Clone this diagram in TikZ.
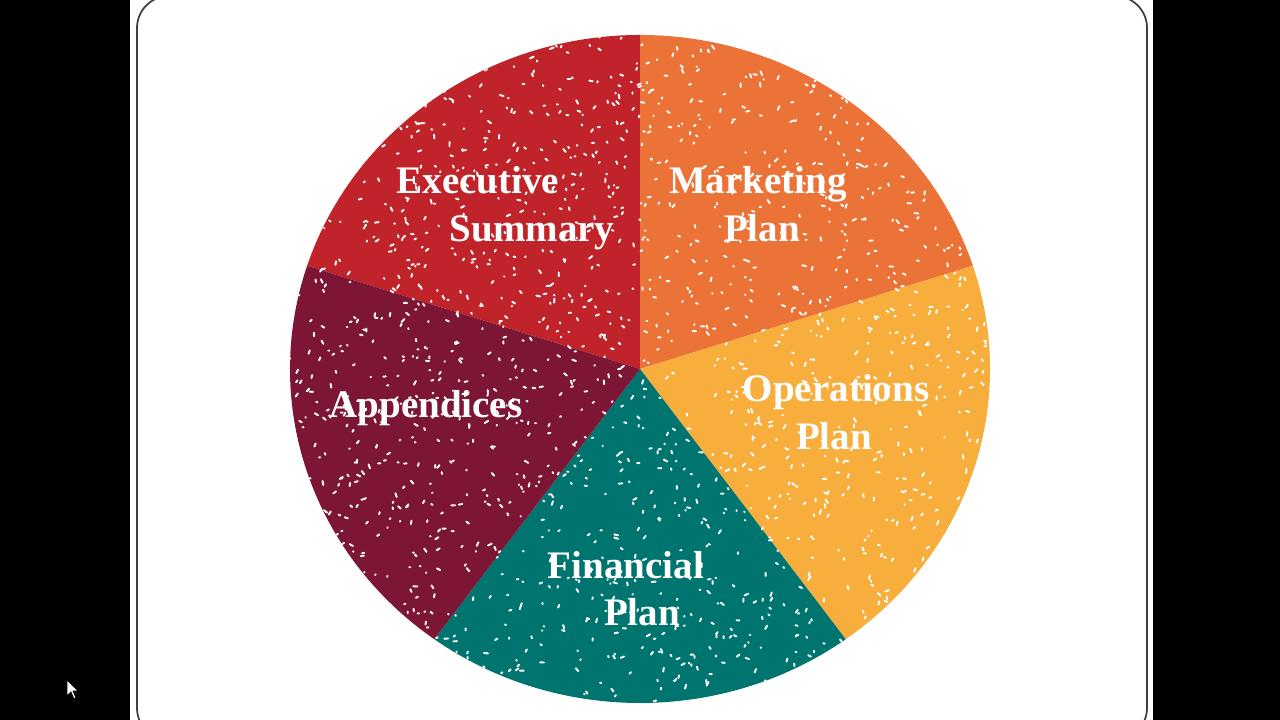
\documentclass[tikz,border=0pt]{standalone}
\usepackage{fontspec}
\setmainfont{Liberation Serif}
\usetikzlibrary{calc}
\definecolor{execred}{HTML}{C0242A}
\definecolor{mktorange}{HTML}{EC7338}
\definecolor{opsyellow}{HTML}{F7AE3D}
\definecolor{finteal}{HTML}{00756F}
\definecolor{appmaroon}{HTML}{7D1535}
\tikzset{
  lbl/.style={text=white, anchor=base, inner sep=0pt, font=\bfseries\fontsize{11.1}{13}\selectfont},
  speck/.style={white, line width=0.55pt, line cap=round}
}
\begin{document}
\begin{tikzpicture}
\useasboundingbox (0,0) rectangle (12.8,7.2);
\clip (0,0) rectangle (12.8,7.2);

% Screen and slide
\fill[black] (0,0) rectangle (12.8,7.2);
\fill[white] (1.30,0) rectangle (11.53,7.2);
\draw[black!75, line width=0.5pt, rounded corners=0.32cm] (1.37,-0.20) rectangle (11.47,7.24);

% Pie centre
\coordinate (c) at (6.40,3.51);

% Executive summary slice
\fill[execred] (c) -- ++(90:3.5 and 3.34) arc[start angle=90, end angle=162, x radius=3.5, y radius=3.34] -- cycle;
% Marketing plan slice
\fill[mktorange] (c) -- ++(18:3.5 and 3.34) arc[start angle=18, end angle=90, x radius=3.5, y radius=3.34] -- cycle;
% Operations plan slice
\fill[opsyellow] (c) -- ++(-54:3.5 and 3.34) arc[start angle=-54, end angle=18, x radius=3.5, y radius=3.34] -- cycle;
% Financial plan slice
\fill[finteal] (c) -- ++(-126:3.5 and 3.34) arc[start angle=-126, end angle=-54, x radius=3.5, y radius=3.34] -- cycle;
% Appendices slice
\fill[appmaroon] (c) -- ++(162:3.5 and 3.34) arc[start angle=162, end angle=234, x radius=3.5, y radius=3.34] -- cycle;

% Speckles
\pgfmathsetseed{7}
\begin{scope}
\clip (c) ellipse [x radius=3.5, y radius=3.34];
\foreach \i in {1,...,1500} {
  \pgfmathsetmacro{\ang}{360*rnd}
  \pgfmathsetmacro{\rad}{sqrt(rnd)}
  \pgfmathsetmacro{\px}{6.40+3.5*\rad*cos(\ang)}
  \pgfmathsetmacro{\py}{3.51+3.34*\rad*sin(\ang)}
  \pgfmathsetmacro{\tilt}{360*rnd}
  \pgfmathsetmacro{\len}{0.006+0.035*rnd}
  \draw[speck] (\px,\py) -- ++(\tilt:\len);
}
\end{scope}

% Labels
\node[lbl] (exec1) at (4.78,5.26) {Executive};
\node[lbl] (exec2) at (5.32,4.78) {Summary};
\node[lbl] (mkt1) at (7.58,5.26) {Marketing};
\node[lbl] (mkt2) at (7.62,4.78) {Plan};
\node[lbl] (ops1) at (8.36,3.18) {Operations};
\node[lbl] (ops2) at (8.34,2.70) {Plan};
\node[lbl] (app) at (4.26,3.02) {Appendices};
\node[lbl] (fin1) at (6.26,1.41) {Financial};
\node[lbl] (fin2) at (6.42,0.94) {Plan};

% Mouse pointer
\fill[white, draw=black, line width=0.2pt] (0.67,0.40) -- (0.67,0.24) -- (0.71,0.28) -- (0.74,0.21) -- (0.76,0.22) -- (0.73,0.29) -- (0.78,0.29) -- cycle;
\end{tikzpicture}
\end{document}
